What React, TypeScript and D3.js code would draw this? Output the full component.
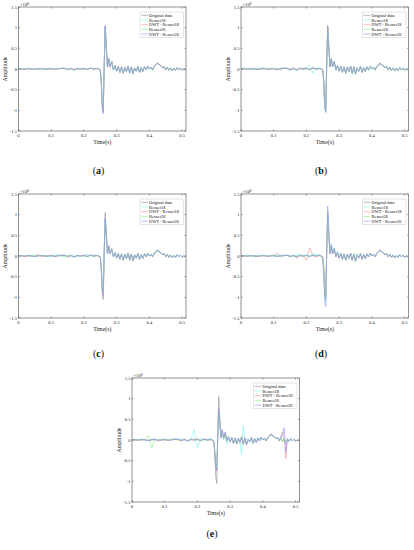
import React from "react";
import * as d3 from "d3";

// time samples (s)
const TIME = [
  0, 0.01, 0.02, 0.03, 0.04, 0.05, 0.06, 0.07, 0.08, 0.09, 0.1, 0.11, 0.12, 0.13, 0.14, 0.15, 0.16, 0.17, 0.18, 0.19, 0.2, 0.21, 0.22, 0.23, 0.24,
  0.245, 0.25, 0.253, 0.256, 0.259, 0.262, 0.265, 0.268, 0.272, 0.276, 0.28,
  0.285, 0.29, 0.295, 0.3, 0.305, 0.31, 0.315, 0.32, 0.325, 0.33, 0.335, 0.34, 0.345, 0.35, 0.355, 0.36, 0.365, 0.37, 0.375, 0.38,
  0.385, 0.39, 0.395, 0.4, 0.405, 0.41, 0.415, 0.42, 0.425, 0.43, 0.435, 0.44, 0.445, 0.45, 0.455, 0.46, 0.465, 0.47, 0.475, 0.48,
  0.485, 0.49, 0.495, 0.5, 0.505, 0.51,
];

// amplitudes in units of 1e8
const ORIGINAL = [
  0, 0.005, -0.005, 0.01, 0, -0.01, 0.005, 0.01, -0.005, 0, 0.01, -0.01, 0.005, 0.01, 0.02, -0.01, 0.01, -0.02, 0.01, 0, 0.01, -0.01, 0.02, 0, 0.01,
  0.0, -0.02, -0.3, -0.9, -1.05, 0.1, 1.05, 0.6, 0.05, 0.25, 0.05,
  0.18, -0.02, 0.08, -0.05, 0.06, -0.08, 0.05, -0.1, 0.04, -0.06, 0.07, -0.1, 0.05, -0.12, 0.02, -0.05, 0.06, -0.08, 0.03, -0.06,
  0.05, -0.02, 0.07, 0.0, 0.04, -0.02, 0.06, 0.1, 0.15, 0.1, 0.08, 0.03, 0.06, -0.02, 0.04, -0.03, 0.02, -0.04, 0.01, -0.03,
  0.03, -0.02, 0.02, -0.03, 0.0, -0.02,
];

// panel (a)
const A_R18 = [
  0, 0.01, -0.01, 0.015, 0.005, -0.015, 0.01, 0.005, -0.01, 0.005, 0.015, -0.015, 0.01, 0.005, 0.03, -0.02, 0.015, -0.03, 0.02, -0.005, 0.015, -0.02, 0.03, 0.01, 0.02,
  0.01, -0.03, -0.25, -0.8, -0.95, 0.05, 0.95, 0.55, 0.08, 0.22, 0.06,
  0.16, -0.03, 0.07, -0.06, 0.05, -0.07, 0.06, -0.09, 0.03, -0.07, 0.06, -0.11, 0.04, -0.1, 0.03, -0.06, 0.05, -0.07, 0.04, -0.05,
  0.04, -0.03, 0.06, 0.01, 0.03, -0.03, 0.05, 0.09, 0.14, 0.11, 0.07, 0.04, 0.05, -0.03, 0.03, -0.02, 0.03, -0.03, 0.02, -0.04,
  0.02, -0.01, 0.03, -0.02, 0.01, -0.01,
];
const A_DR18 = [
  0, 0.0, -0.01, 0.01, 0.005, -0.005, 0.0, 0.015, -0.01, 0.005, 0.005, -0.015, 0.01, 0.015, 0.01, -0.015, 0.02, -0.01, 0.005, 0.005, 0.015, -0.015, 0.01, 0.005, 0.005,
  0.0, -0.04, -0.35, -0.95, -1.0, 0.15, 1.0, 0.58, 0.04, 0.24, 0.04,
  0.17, -0.01, 0.08, -0.04, 0.07, -0.08, 0.04, -0.1, 0.05, -0.05, 0.07, -0.09, 0.06, -0.11, 0.02, -0.04, 0.07, -0.08, 0.02, -0.06,
  0.06, -0.02, 0.06, 0.0, 0.05, -0.01, 0.06, 0.11, 0.15, 0.1, 0.09, 0.02, 0.06, -0.01, 0.04, -0.04, 0.02, -0.03, 0.0, -0.03,
  0.04, -0.02, 0.01, -0.03, 0.01, -0.02,
];
const A_R26 = [
  0.01, 0.0, 0.0, 0.02, -0.01, -0.01, 0.01, 0.0, 0.0, -0.01, 0.02, -0.005, 0.0, 0.02, 0.025, -0.02, 0.0, -0.025, 0.015, 0.01, 0.0, -0.005, 0.025, -0.01, 0.015,
  0.0, -0.01, -0.28, -0.85, -0.98, 0.08, 0.98, 0.62, 0.06, 0.26, 0.07,
  0.19, -0.02, 0.09, -0.05, 0.05, -0.09, 0.05, -0.11, 0.04, -0.07, 0.08, -0.1, 0.04, -0.13, 0.03, -0.05, 0.06, -0.09, 0.04, -0.06,
  0.05, -0.01, 0.07, -0.01, 0.04, -0.03, 0.07, 0.1, 0.14, 0.12, 0.08, 0.04, 0.07, -0.02, 0.05, -0.03, 0.03, -0.04, 0.02, -0.02,
  0.03, -0.03, 0.02, -0.02, 0.0, -0.01,
];
const A_DR26 = [
  0, 0.005, -0.005, 0.005, 0, -0.005, 0.005, 0.01, 0, 0, 0.01, -0.005, 0.005, 0.01, 0.015, -0.005, 0.01, -0.015, 0.01, 0, 0.01, -0.005, 0.015, 0, 0.01,
  0.0, -0.02, -0.32, -0.92, -1.08, 0.12, 1.04, 0.6, 0.05, 0.25, 0.05,
  0.18, -0.02, 0.08, -0.05, 0.06, -0.08, 0.05, -0.1, 0.04, -0.06, 0.07, -0.1, 0.05, -0.11, 0.02, -0.05, 0.06, -0.08, 0.03, -0.06,
  0.05, -0.02, 0.07, 0.0, 0.04, -0.02, 0.06, 0.1, 0.14, 0.1, 0.08, 0.03, 0.06, -0.02, 0.04, -0.03, 0.02, -0.04, 0.01, -0.03,
  0.03, -0.02, 0.02, -0.03, 0.0, -0.02,
];

// panel (b)
const B_R18 = [
  0.01, 0.02, -0.01, 0.015, -0.02, 0.01, 0.02, 0.03, -0.02, 0.01, 0.02, -0.03, 0.015, 0.03, 0.0, -0.04, 0.02, -0.05, 0.02, 0.01, 0.03, 0.1, -0.1, 0.04, 0.02,
  0.01, -0.05, -0.3, -0.85, -1.05, 0.0, 0.9, 0.5, 0.1, 0.2, 0.08,
  0.15, 0.02, 0.06, -0.04, 0.07, -0.06, 0.05, -0.1, 0.06, -0.05, 0.05, -0.12, 0.06, -0.09, 0.04, -0.07, 0.07, -0.06, 0.05, -0.04,
  0.04, -0.04, 0.05, 0.02, 0.02, -0.03, 0.06, 0.08, 0.12, 0.09, 0.06, 0.05, 0.04, -0.03, 0.05, -0.02, 0.03, -0.04, 0.03, -0.05,
  0.02, 0.0, 0.03, -0.03, 0.02, -0.02,
];
const B_DR18 = [
  0, 0.01, -0.01, 0.02, 0.01, -0.01, 0.01, 0.02, -0.02, 0.01, 0.01, -0.02, 0.02, 0.02, 0.01, -0.02, 0.03, -0.02, 0.01, 0.02, 0.02, -0.02, 0.03, 0.0, 0.01,
  0.0, -0.03, -0.33, -0.9, -1.0, 0.2, 1.0, 0.55, 0.06, 0.23, 0.05,
  0.17, 0.0, 0.07, -0.05, 0.06, -0.07, 0.05, -0.09, 0.05, -0.06, 0.06, -0.1, 0.05, -0.11, 0.03, -0.05, 0.06, -0.07, 0.03, -0.05,
  0.05, -0.02, 0.06, 0.0, 0.04, -0.02, 0.05, 0.09, 0.13, 0.1, 0.08, 0.03, 0.05, -0.02, 0.04, -0.03, 0.02, -0.04, 0.01, -0.03,
  0.03, -0.02, 0.02, -0.03, 0.0, -0.02,
];
const B_R26 = [
  0.01, 0.0, 0.02, -0.01, 0.01, 0.02, -0.02, 0.01, 0.03, -0.01, 0.02, 0.01, -0.02, 0.03, 0.02, -0.03, 0.01, -0.01, 0.03, -0.02, 0.02, -0.02, 0.04, -0.02, 0.02,
  0.01, -0.02, -0.28, -0.88, -1.02, 0.1, 0.98, 0.58, 0.05, 0.26, 0.06,
  0.19, -0.03, 0.09, -0.06, 0.05, -0.09, 0.06, -0.11, 0.03, -0.07, 0.08, -0.12, 0.06, -0.14, 0.02, -0.06, 0.07, -0.09, 0.03, -0.07,
  0.06, -0.03, 0.08, -0.01, 0.05, -0.03, 0.07, 0.1, 0.14, 0.11, 0.09, 0.03, 0.07, -0.03, 0.05, -0.04, 0.03, -0.05, 0.02, -0.04,
  0.04, -0.03, 0.02, -0.04, 0.01, -0.02,
];
const B_DR26 = [
  0, 0.005, -0.005, 0.01, 0.0, -0.01, 0.005, 0.01, -0.005, 0.0, 0.01, -0.01, 0.005, 0.01, 0.02, -0.01, 0.01, -0.02, 0.01, 0.0, 0.01, -0.01, 0.02, 0.0, 0.01,
  0.0, -0.02, -0.31, -0.9, -1.04, 0.12, 1.02, 0.6, 0.05, 0.25, 0.05,
  0.18, -0.02, 0.08, -0.05, 0.06, -0.08, 0.05, -0.1, 0.04, -0.06, 0.07, -0.1, 0.05, -0.12, 0.02, -0.05, 0.06, -0.08, 0.03, -0.06,
  0.05, -0.02, 0.07, 0.0, 0.04, -0.02, 0.06, 0.1, 0.14, 0.1, 0.08, 0.03, 0.06, -0.02, 0.04, -0.03, 0.02, -0.04, 0.01, -0.03,
  0.03, -0.02, 0.02, -0.03, 0.0, -0.02,
];

// panel (c)
const C_R18 = [
  0.02, -0.01, 0.01, 0.02, -0.02, 0.01, 0.03, -0.01, 0.0, 0.02, -0.02, 0.01, 0.03, -0.02, 0.02, 0.0, -0.03, 0.04, -0.02, 0.01, 0.02, 0.05, -0.04, 0.04, 0.01,
  0.02, -0.04, -0.25, -0.75, -0.88, 0.0, 0.85, 0.5, 0.1, 0.2, 0.07,
  0.14, 0.0, 0.06, -0.03, 0.05, -0.06, 0.03, -0.08, 0.05, -0.05, 0.06, -0.09, 0.04, -0.1, 0.03, -0.04, 0.05, -0.06, 0.04, -0.05,
  0.04, -0.01, 0.06, 0.01, 0.03, -0.01, 0.05, 0.08, 0.12, 0.09, 0.06, 0.04, 0.05, -0.02, 0.03, -0.02, 0.03, -0.03, 0.02, -0.03,
  0.02, -0.01, 0.02, -0.02, 0.01, -0.01,
];
const C_DR18 = [
  0.0, 0.01, -0.02, 0.015, 0.0, -0.01, 0.04, -0.02, 0.01, 0.0, 0.02, -0.02, 0.01, 0.02, 0.03, -0.03, 0.02, -0.02, 0.01, 0.01, 0.02, -0.01, 0.03, 0.0, 0.01,
  0.0, -0.03, -0.3, -0.8, -0.92, 0.1, 0.9, 0.55, 0.05, 0.22, 0.05,
  0.16, -0.01, 0.07, -0.05, 0.06, -0.08, 0.05, -0.1, 0.04, -0.07, 0.07, -0.1, 0.05, -0.11, 0.02, -0.05, 0.06, -0.08, 0.03, -0.06,
  0.05, -0.02, 0.06, 0.0, 0.04, -0.02, 0.06, 0.1, 0.14, 0.1, 0.08, 0.03, 0.06, -0.02, 0.04, -0.03, 0.02, -0.04, 0.01, -0.03,
  0.03, -0.02, 0.02, -0.03, 0.0, -0.02,
];
const C_R26 = [
  0.01, 0.0, 0.01, -0.01, 0.02, 0.0, -0.01, 0.02, 0.0, -0.01, 0.02, 0.0, 0.01, 0.03, -0.02, 0.01, 0.02, -0.03, 0.02, -0.01, 0.01, -0.01, 0.02, -0.01, 0.02,
  0.0, -0.02, -0.28, -0.82, -0.9, 0.05, 0.88, 0.55, 0.07, 0.24, 0.06,
  0.17, -0.03, 0.08, -0.06, 0.07, -0.09, 0.06, -0.11, 0.05, -0.07, 0.08, -0.11, 0.05, -0.12, 0.03, -0.06, 0.07, -0.08, 0.03, -0.07,
  0.06, -0.02, 0.07, -0.01, 0.05, -0.02, 0.07, 0.11, 0.15, 0.11, 0.08, 0.04, 0.06, -0.03, 0.04, -0.03, 0.03, -0.04, 0.02, -0.03,
  0.03, -0.02, 0.02, -0.03, 0.0, -0.02,
];
const C_DR26 = [
  0.0, 0.005, -0.005, 0.01, 0.0, -0.01, 0.005, 0.01, -0.005, 0.0, 0.01, -0.01, 0.005, 0.01, 0.02, -0.01, 0.01, -0.02, 0.01, 0.0, 0.01, -0.01, 0.02, 0.0, 0.01,
  0.0, -0.02, -0.3, -0.82, -0.95, 0.08, 0.92, 0.56, 0.05, 0.24, 0.05,
  0.17, -0.02, 0.08, -0.05, 0.06, -0.08, 0.05, -0.1, 0.04, -0.06, 0.07, -0.1, 0.05, -0.12, 0.02, -0.05, 0.06, -0.08, 0.03, -0.06,
  0.05, -0.02, 0.07, 0.0, 0.04, -0.02, 0.06, 0.1, 0.15, 0.1, 0.08, 0.03, 0.06, -0.02, 0.04, -0.03, 0.02, -0.04, 0.01, -0.03,
  0.03, -0.02, 0.02, -0.03, 0.0, -0.02,
];

// panel (d)
const D_R18 = [
  0.01, 0.0, 0.02, -0.01, 0.01, 0.02, 0.0, 0.03, -0.01, 0.02, 0.0, 0.01, 0.03, -0.01, 0.02, 0.03, -0.02, 0.02, 0.04, 0.0, 0.03, -0.02, 0.06, 0.03, 0.05,
  0.0, -0.08, -0.4, -0.95, -1.1, 0.1, 1.05, 0.6, 0.15, 0.3, 0.1,
  0.2, 0.05, 0.1, -0.03, 0.05, -0.06, 0.04, -0.08, 0.03, -0.05, 0.05, -0.08, 0.04, -0.1, 0.03, -0.04, 0.05, -0.06, 0.03, -0.05,
  0.04, -0.01, 0.06, 0.02, 0.04, -0.01, 0.06, 0.1, 0.13, 0.11, 0.07, 0.04, 0.05, -0.01, 0.04, -0.02, 0.03, -0.03, 0.02, -0.03,
  0.03, -0.02, 0.02, -0.02, 0.01, -0.01,
];
const D_DR18 = [
  0.0, 0.0, -0.01, 0.01, 0.0, -0.01, 0.0, 0.01, -0.01, 0.01, 0.02, 0.08, -0.02, 0.01, 0.02, -0.01, 0.02, -0.06, 0.01, 0.0, -0.1, 0.2, 0.0, -0.02, 0.02,
  0.0, -0.02, -0.3, -0.9, -1.0, 0.15, 1.0, 0.5, 0.08, 0.28, 0.05,
  0.15, -0.02, 0.07, -0.04, 0.06, -0.07, 0.05, -0.09, 0.04, -0.06, 0.06, -0.1, 0.05, -0.1, 0.02, -0.05, 0.06, -0.07, 0.03, -0.06,
  0.05, -0.02, 0.06, 0.0, 0.04, -0.02, 0.06, 0.1, 0.15, 0.1, 0.08, 0.03, 0.06, -0.02, 0.04, -0.03, 0.02, -0.04, 0.01, -0.03,
  0.03, -0.02, 0.02, -0.03, 0.0, -0.02,
];
const D_R26 = [
  0.01, -0.01, 0.02, 0.0, -0.01, 0.01, 0.0, 0.02, -0.01, 0.01, 0.0, 0.02, -0.01, 0.01, 0.02, -0.02, 0.01, 0.0, 0.03, -0.01, 0.02, -0.01, 0.03, 0.0, 0.02,
  0.0, -0.03, -0.35, -0.95, -1.05, 0.1, 1.0, 0.55, 0.1, 0.25, 0.06,
  0.17, 0.0, 0.08, -0.05, 0.07, -0.08, 0.05, -0.1, 0.04, -0.06, 0.07, -0.1, 0.06, -0.15, 0.06, -0.05, 0.06, -0.08, 0.03, -0.06,
  0.05, -0.02, 0.07, 0.0, 0.04, -0.02, 0.06, 0.1, 0.14, 0.1, 0.08, 0.03, 0.06, -0.02, 0.04, -0.03, 0.02, -0.04, 0.01, -0.03,
  0.03, -0.02, 0.02, -0.03, 0.0, -0.02,
];
const D_DR26 = [
  0.0, 0.005, -0.005, 0.01, 0.0, -0.01, 0.005, 0.01, -0.005, 0.0, 0.01, -0.01, 0.005, 0.01, 0.02, -0.01, 0.01, -0.02, 0.01, 0.0, 0.01, -0.01, 0.02, 0.0, 0.01,
  0.0, -0.05, -0.45, -1.1, -1.22, 0.15, 1.2, 0.7, 0.05, 0.25, 0.05,
  0.18, -0.02, 0.1, -0.06, 0.06, -0.08, 0.05, -0.1, 0.04, -0.06, 0.07, -0.1, 0.05, -0.12, 0.02, -0.05, 0.06, -0.08, 0.03, -0.06,
  0.05, -0.02, 0.07, 0.0, 0.04, -0.02, 0.06, 0.1, 0.15, 0.1, 0.08, 0.03, 0.06, -0.02, 0.04, -0.03, 0.02, -0.04, 0.01, -0.03,
  0.03, -0.02, 0.02, -0.03, 0.0, -0.02,
];

// panel (e)
const E_R18 = [
  0.01, 0.02, -0.01, 0.03, 0.0, -0.02, 0.02, 0.03, -0.01, 0.01, 0.03, -0.02, 0.01, 0.02, 0.04, -0.02, 0.03, -0.04, 0.02, 0.25, -0.2, 0.05, -0.03, 0.02, 0.04,
  0.02, -0.05, -0.25, -0.6, -0.72, 0.0, 0.7, 0.45, 0.05, 0.2, 0.0,
  0.1, -0.1, 0.05, -0.05, 0.06, -0.06, 0.04, -0.08, 0.03, -0.05, -0.35, 0.35, 0.0, -0.08, 0.03, -0.05, 0.05, -0.1, 0.03, -0.05,
  0.06, -0.02, 0.05, 0.02, 0.03, -0.03, 0.06, 0.1, 0.12, 0.08, 0.06, 0.03, 0.05, -0.03, 0.04, 0.1, 0.0, -0.1, 0.04, -0.04,
  0.03, -0.02, 0.02, -0.03, 0.0, -0.02,
];
const E_DR18 = [
  0.0, 0.01, -0.01, 0.02, 0.01, -0.01, 0.01, 0.02, -0.02, 0.0, 0.02, -0.01, 0.01, 0.03, 0.01, -0.02, 0.02, -0.02, 0.01, 0.02, 0.03, -0.02, 0.03, 0.0, 0.01,
  0.0, -0.03, -0.3, -0.65, -0.75, 0.05, 0.72, 0.42, 0.05, 0.22, 0.03,
  0.15, -0.02, 0.07, -0.05, 0.05, -0.08, 0.04, -0.08, 0.03, -0.06, 0.06, -0.1, 0.04, -0.12, 0.02, -0.05, 0.05, -0.07, 0.03, -0.06,
  0.04, -0.02, 0.06, 0.0, 0.04, -0.02, 0.05, 0.12, 0.15, 0.1, 0.07, 0.03, 0.06, -0.02, 0.05, 0.2, 0.05, -0.45, 0.05, -0.03,
  0.02, -0.02, 0.02, -0.03, 0.0, -0.02,
];
const E_R26 = [
  0.01, 0.0, 0.02, -0.01, 0.02, 0.1, -0.2, 0.02, 0.0, 0.02, -0.01, 0.02, 0.0, 0.03, -0.01, 0.02, 0.0, -0.02, 0.03, -0.01, 0.02, -0.02, 0.03, -0.01, 0.02,
  0.0, -0.02, -0.28, -0.62, -0.7, 0.05, 0.68, 0.4, 0.06, 0.18, 0.04,
  0.12, -0.03, 0.08, -0.05, 0.06, -0.08, 0.05, -0.1, 0.04, -0.06, 0.1, -0.12, 0.05, -0.1, 0.02, -0.05, 0.06, -0.08, 0.03, -0.06,
  0.05, -0.02, 0.07, 0.0, 0.04, -0.02, 0.06, 0.08, 0.13, 0.09, 0.08, 0.03, 0.06, -0.02, 0.04, -0.05, 0.04, -0.06, 0.02, -0.03,
  0.03, -0.02, 0.02, -0.03, 0.0, -0.02,
];
const E_DR26 = [
  0.0, 0.005, -0.005, 0.01, 0.0, -0.01, 0.005, 0.01, -0.005, 0.0, 0.01, -0.01, 0.005, 0.01, 0.02, -0.01, 0.01, -0.02, 0.01, 0.0, 0.01, -0.01, 0.02, 0.0, 0.01,
  0.0, -0.03, -0.3, -0.66, -0.74, 0.05, 0.75, 0.45, 0.05, 0.25, 0.05,
  0.2, -0.02, 0.08, -0.05, 0.06, -0.08, 0.05, -0.1, 0.04, -0.06, 0.07, -0.1, 0.05, -0.12, 0.02, -0.05, 0.06, -0.08, 0.03, -0.06,
  0.05, -0.02, 0.07, 0.0, 0.04, -0.02, 0.06, 0.1, 0.14, 0.1, 0.08, 0.03, 0.06, -0.02, 0.1, 0.12, 0.3, -0.3, 0.0, -0.03,
  0.03, -0.02, 0.02, -0.03, 0.0, -0.02,
];

const SERIES_NAMES = ["Original data", "Resnet18", "DWT - Resnet18", "Resnet26", "DWT - Resnet26"];
const SERIES_COLORS = ["#8c8c8c", "#7ff5f5", "#ff8f8f", "#7dee7d", "#8f8fff"];
const X_TICKS = [0, 0.1, 0.2, 0.3, 0.4, 0.5];
const Y_TICKS = [-1.5, -1, -0.5, 0, 0.5, 1, 1.5];
const PANEL_LABELS = ["a", "b", "c", "d", "e"];

const PANEL_DATA = [
  [ORIGINAL, A_R18, A_DR18, A_R26, A_DR26],
  [ORIGINAL, B_R18, B_DR18, B_R26, B_DR26],
  [ORIGINAL, C_R18, C_DR18, C_R26, C_DR26],
  [ORIGINAL, D_R18, D_DR18, D_R26, D_DR26],
  [ORIGINAL, E_R18, E_DR18, E_R26, E_DR26],
];

const LAYOUT = [
  { left: 18.5, top: 7, labelY: 174 },
  { left: 241, top: 7, labelY: 174 },
  { left: 18.5, top: 194, labelY: 357 },
  { left: 241, top: 194, labelY: 357 },
  { left: 132, top: 378, labelY: 537 },
];
const PW = 167.5;
const PH = 124;
const FONT = "'Liberation Serif', 'DejaVu Serif', serif";
const AXIS = "#262626";

function fmt(v: number) {
  return String(v);
}

function Panel({ idx }: { idx: number }) {
  const { left, top, labelY } = LAYOUT[idx];
  const data = PANEL_DATA[idx];
  const x = d3.scaleLinear().domain([0, 0.512]).range([left, left + PW]);
  const y = d3.scaleLinear().domain([-1.5, 1.5]).range([top + PH, top]);
  const line = d3
    .line<number>()
    .x((_, i) => x(TIME[i]))
    .y((d) => y(d));
  const tk = 1.6;
  const lgRight = left + PW - 2.5;
  const lgTop = top + 5;
  const lgW = 43.5;
  const lgRow = 4.7;
  const lgH = lgRow * SERIES_NAMES.length + 2;
  return (
    <g>
      <defs>
        <clipPath id={`clip${idx}`}>
          <rect x={left} y={top} width={PW} height={PH} />
        </clipPath>
      </defs>
      <g clipPath={`url(#clip${idx})`}>
        {data.map((s, si) => (
          <path
            key={si}
            d={line(s) || ""}
            fill="none"
            stroke={SERIES_COLORS[si]}
            strokeWidth={0.6}
            strokeLinejoin="round"
          />
        ))}
      </g>
      <rect x={left} y={top} width={PW} height={PH} fill="none" stroke={AXIS} strokeWidth={0.5} />
      {X_TICKS.map((t) => (
        <g key={t}>
          <line x1={x(t)} x2={x(t)} y1={top + PH} y2={top + PH - tk} stroke={AXIS} strokeWidth={0.4} />
          <line x1={x(t)} x2={x(t)} y1={top} y2={top + tk} stroke={AXIS} strokeWidth={0.4} />
          <text x={x(t)} y={top + PH + 6.2} fontSize={4.6} textAnchor="middle" fill="#262626" fontFamily={FONT}>
            {fmt(t)}
          </text>
        </g>
      ))}
      {Y_TICKS.map((t) => (
        <g key={t}>
          <line x1={left} x2={left + tk} y1={y(t)} y2={y(t)} stroke={AXIS} strokeWidth={0.4} />
          <line x1={left + PW} x2={left + PW - tk} y1={y(t)} y2={y(t)} stroke={AXIS} strokeWidth={0.4} />
          <text x={left - 1.5} y={y(t) + 1.6} fontSize={4.6} textAnchor="end" fill="#262626" fontFamily={FONT}>
            {fmt(t)}
          </text>
        </g>
      ))}
      <text x={left + 1.5} y={top - 0.8} fontSize={4.6} fill="#262626" fontFamily={FONT}>
        ×10
        <tspan dy={-1.6} fontSize={3.4}>
          8
        </tspan>
      </text>
      <text x={left + PW / 2} y={top + PH + 13} fontSize={5.8} textAnchor="middle" fill="#262626" fontFamily={FONT}>
        Time(s)
      </text>
      <text
        transform={`translate(${left - 11.5},${top + PH / 2}) rotate(-90)`}
        fontSize={5.8}
        textAnchor="middle"
        fill="#262626"
        fontFamily={FONT}
      >
        Amplitude
      </text>
      <rect x={lgRight - lgW} y={lgTop} width={lgW} height={lgH} fill="#fff" stroke="#bdbdbd" strokeWidth={0.4} />
      {SERIES_NAMES.map((n, si) => {
        const yy = lgTop + 3.3 + si * lgRow;
        return (
          <g key={n}>
            <line x1={lgRight - lgW + 1.2} x2={lgRight - lgW + 8} y1={yy} y2={yy} stroke={SERIES_COLORS[si]} strokeWidth={0.6} />
            <text x={lgRight - lgW + 9} y={yy + 1.5} fontSize={4.4} fill="#111" fontFamily={FONT}>
              {n}
            </text>
          </g>
        );
      })}
      <text x={left + 80} y={labelY} fontSize={10} textAnchor="middle" fill="#111" fontFamily={FONT}>
        (<tspan fontWeight="bold">{PANEL_LABELS[idx]}</tspan>)
      </text>
    </g>
  );
}

export default function App() {
  return (
    <svg
      width={414}
      height={550}
      viewBox="0 0 414 550"
      style={{ position: "absolute", left: 0, top: 0, background: "#fff" }}
    >
      <rect x={0} y={0} width={414} height={550} fill="#fff" />
      {PANEL_DATA.map((_, i) => (
        <Panel key={i} idx={i} />
      ))}
    </svg>
  );
}
